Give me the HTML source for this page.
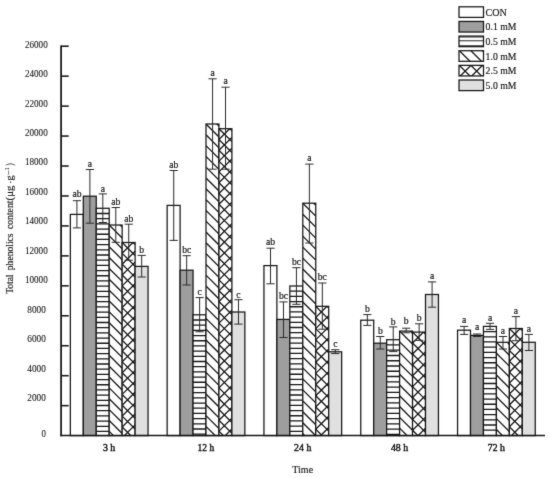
<!DOCTYPE html>
<html><head><meta charset="utf-8"><title>Total phenolics content</title>
<style>html,body{margin:0;padding:0;background:#fff;}body{width:550px;height:478px;overflow:hidden;font-family:"Liberation Serif", serif;}svg{display:block}</style>
</head><body>
<svg width="550" height="478" viewBox="0 0 550 478" font-family='"Liberation Serif", serif'><defs><filter id="soft" color-interpolation-filters="sRGB" x="0" y="0" width="550" height="478" filterUnits="userSpaceOnUse"><feConvolveMatrix order="3" kernelMatrix="0.015 0.075 0.015 0.075 0.6399999999999999 0.075 0.015 0.075 0.015" divisor="1" edgeMode="duplicate" preserveAlpha="true"/></filter><clipPath id="c02"><rect x="96.25" y="208.30" width="12.95" height="227.30"/></clipPath><clipPath id="c03"><rect x="109.20" y="225.00" width="12.95" height="210.60"/></clipPath><clipPath id="c04"><rect x="122.15" y="242.50" width="12.95" height="193.10"/></clipPath><clipPath id="c12"><rect x="193.05" y="314.80" width="12.95" height="120.80"/></clipPath><clipPath id="c13"><rect x="206.00" y="124.00" width="12.95" height="311.60"/></clipPath><clipPath id="c14"><rect x="218.95" y="128.70" width="12.95" height="306.90"/></clipPath><clipPath id="c22"><rect x="289.85" y="286.00" width="12.95" height="149.60"/></clipPath><clipPath id="c23"><rect x="302.80" y="203.20" width="12.95" height="232.40"/></clipPath><clipPath id="c24"><rect x="315.75" y="306.30" width="12.95" height="129.30"/></clipPath><clipPath id="c32"><rect x="386.65" y="339.70" width="12.95" height="95.90"/></clipPath><clipPath id="c33"><rect x="399.60" y="331.10" width="12.95" height="104.50"/></clipPath><clipPath id="c34"><rect x="412.55" y="332.10" width="12.95" height="103.50"/></clipPath><clipPath id="c42"><rect x="483.45" y="326.40" width="12.95" height="109.20"/></clipPath><clipPath id="c43"><rect x="496.40" y="342.30" width="12.95" height="93.30"/></clipPath><clipPath id="c44"><rect x="509.35" y="328.50" width="12.95" height="107.10"/></clipPath><clipPath id="l2"><rect x="459.0" y="36.08" width="24.5" height="10.6"/></clipPath><clipPath id="l3"><rect x="459.40" y="50.72" width="24.10" height="10.60"/></clipPath><clipPath id="l4"><rect x="459.40" y="65.36" width="24.10" height="10.60"/></clipPath></defs><g filter="url(#soft)"><rect width="550" height="478" fill="#fff"/><rect x="70.35" y="214.40" width="12.95" height="221.20" fill="#fff"/>
<rect x="70.35" y="214.40" width="12.95" height="221.20" fill="none" stroke="#161616" stroke-width="1.25"/>
<rect x="83.30" y="196.20" width="12.95" height="239.40" fill="#9e9e9e"/>
<rect x="83.30" y="196.20" width="12.95" height="239.40" fill="none" stroke="#161616" stroke-width="1.25"/>
<rect x="96.25" y="208.30" width="12.95" height="227.30" fill="#fff"/>
<g clip-path="url(#c02)" stroke="#161616" stroke-width="1.3" fill="none"><line x1="96.25" y1="213.49" x2="109.20" y2="213.49"/><line x1="96.25" y1="218.68" x2="109.20" y2="218.68"/><line x1="96.25" y1="223.87" x2="109.20" y2="223.87"/><line x1="96.25" y1="229.06" x2="109.20" y2="229.06"/><line x1="96.25" y1="234.25" x2="109.20" y2="234.25"/><line x1="96.25" y1="239.44" x2="109.20" y2="239.44"/><line x1="96.25" y1="244.63" x2="109.20" y2="244.63"/><line x1="96.25" y1="249.82" x2="109.20" y2="249.82"/><line x1="96.25" y1="255.01" x2="109.20" y2="255.01"/><line x1="96.25" y1="260.20" x2="109.20" y2="260.20"/><line x1="96.25" y1="265.39" x2="109.20" y2="265.39"/><line x1="96.25" y1="270.58" x2="109.20" y2="270.58"/><line x1="96.25" y1="275.77" x2="109.20" y2="275.77"/><line x1="96.25" y1="280.96" x2="109.20" y2="280.96"/><line x1="96.25" y1="286.15" x2="109.20" y2="286.15"/><line x1="96.25" y1="291.34" x2="109.20" y2="291.34"/><line x1="96.25" y1="296.53" x2="109.20" y2="296.53"/><line x1="96.25" y1="301.72" x2="109.20" y2="301.72"/><line x1="96.25" y1="306.91" x2="109.20" y2="306.91"/><line x1="96.25" y1="312.10" x2="109.20" y2="312.10"/><line x1="96.25" y1="317.29" x2="109.20" y2="317.29"/><line x1="96.25" y1="322.48" x2="109.20" y2="322.48"/><line x1="96.25" y1="327.67" x2="109.20" y2="327.67"/><line x1="96.25" y1="332.86" x2="109.20" y2="332.86"/><line x1="96.25" y1="338.05" x2="109.20" y2="338.05"/><line x1="96.25" y1="343.24" x2="109.20" y2="343.24"/><line x1="96.25" y1="348.43" x2="109.20" y2="348.43"/><line x1="96.25" y1="353.62" x2="109.20" y2="353.62"/><line x1="96.25" y1="358.81" x2="109.20" y2="358.81"/><line x1="96.25" y1="364.00" x2="109.20" y2="364.00"/><line x1="96.25" y1="369.19" x2="109.20" y2="369.19"/><line x1="96.25" y1="374.38" x2="109.20" y2="374.38"/><line x1="96.25" y1="379.57" x2="109.20" y2="379.57"/><line x1="96.25" y1="384.76" x2="109.20" y2="384.76"/><line x1="96.25" y1="389.95" x2="109.20" y2="389.95"/><line x1="96.25" y1="395.14" x2="109.20" y2="395.14"/><line x1="96.25" y1="400.33" x2="109.20" y2="400.33"/><line x1="96.25" y1="405.52" x2="109.20" y2="405.52"/><line x1="96.25" y1="410.71" x2="109.20" y2="410.71"/><line x1="96.25" y1="415.90" x2="109.20" y2="415.90"/><line x1="96.25" y1="421.09" x2="109.20" y2="421.09"/><line x1="96.25" y1="426.28" x2="109.20" y2="426.28"/><line x1="96.25" y1="431.47" x2="109.20" y2="431.47"/></g>
<rect x="96.25" y="208.30" width="12.95" height="227.30" fill="none" stroke="#161616" stroke-width="1.25"/>
<rect x="109.20" y="225.00" width="12.95" height="210.60" fill="#fff"/>
<g clip-path="url(#c03)" stroke="#161616" stroke-width="1.3" fill="none"><line x1="109.20" y1="203.28" x2="122.15" y2="216.23"/><line x1="109.20" y1="214.14" x2="122.15" y2="227.09"/><line x1="109.20" y1="225.00" x2="122.15" y2="237.95"/><line x1="109.20" y1="235.86" x2="122.15" y2="248.81"/><line x1="109.20" y1="246.72" x2="122.15" y2="259.67"/><line x1="109.20" y1="257.58" x2="122.15" y2="270.53"/><line x1="109.20" y1="268.44" x2="122.15" y2="281.39"/><line x1="109.20" y1="279.30" x2="122.15" y2="292.25"/><line x1="109.20" y1="290.16" x2="122.15" y2="303.11"/><line x1="109.20" y1="301.02" x2="122.15" y2="313.97"/><line x1="109.20" y1="311.88" x2="122.15" y2="324.83"/><line x1="109.20" y1="322.74" x2="122.15" y2="335.69"/><line x1="109.20" y1="333.60" x2="122.15" y2="346.55"/><line x1="109.20" y1="344.46" x2="122.15" y2="357.41"/><line x1="109.20" y1="355.32" x2="122.15" y2="368.27"/><line x1="109.20" y1="366.18" x2="122.15" y2="379.13"/><line x1="109.20" y1="377.04" x2="122.15" y2="389.99"/><line x1="109.20" y1="387.90" x2="122.15" y2="400.85"/><line x1="109.20" y1="398.76" x2="122.15" y2="411.71"/><line x1="109.20" y1="409.62" x2="122.15" y2="422.57"/><line x1="109.20" y1="420.48" x2="122.15" y2="433.43"/><line x1="109.20" y1="431.34" x2="122.15" y2="444.29"/><line x1="109.20" y1="442.20" x2="122.15" y2="455.15"/><line x1="109.20" y1="453.06" x2="122.15" y2="466.01"/></g>
<rect x="109.20" y="225.00" width="12.95" height="210.60" fill="none" stroke="#161616" stroke-width="1.25"/>
<rect x="122.15" y="242.50" width="12.95" height="193.10" fill="#fff"/>
<g clip-path="url(#c04)" stroke="#161616" stroke-width="1.3" fill="none"><line x1="122.15" y1="220.80" x2="135.10" y2="233.75"/><line x1="122.15" y1="231.65" x2="135.10" y2="244.60"/><line x1="122.15" y1="242.50" x2="135.10" y2="255.45"/><line x1="122.15" y1="253.35" x2="135.10" y2="266.30"/><line x1="122.15" y1="264.20" x2="135.10" y2="277.15"/><line x1="122.15" y1="275.05" x2="135.10" y2="288.00"/><line x1="122.15" y1="285.90" x2="135.10" y2="298.85"/><line x1="122.15" y1="296.75" x2="135.10" y2="309.70"/><line x1="122.15" y1="307.60" x2="135.10" y2="320.55"/><line x1="122.15" y1="318.45" x2="135.10" y2="331.40"/><line x1="122.15" y1="329.30" x2="135.10" y2="342.25"/><line x1="122.15" y1="340.15" x2="135.10" y2="353.10"/><line x1="122.15" y1="351.00" x2="135.10" y2="363.95"/><line x1="122.15" y1="361.85" x2="135.10" y2="374.80"/><line x1="122.15" y1="372.70" x2="135.10" y2="385.65"/><line x1="122.15" y1="383.55" x2="135.10" y2="396.50"/><line x1="122.15" y1="394.40" x2="135.10" y2="407.35"/><line x1="122.15" y1="405.25" x2="135.10" y2="418.20"/><line x1="122.15" y1="416.10" x2="135.10" y2="429.05"/><line x1="122.15" y1="426.95" x2="135.10" y2="439.90"/><line x1="122.15" y1="437.80" x2="135.10" y2="450.75"/><line x1="122.15" y1="448.65" x2="135.10" y2="461.60"/><line x1="122.15" y1="242.50" x2="135.10" y2="229.55"/><line x1="122.15" y1="253.35" x2="135.10" y2="240.40"/><line x1="122.15" y1="264.20" x2="135.10" y2="251.25"/><line x1="122.15" y1="275.05" x2="135.10" y2="262.10"/><line x1="122.15" y1="285.90" x2="135.10" y2="272.95"/><line x1="122.15" y1="296.75" x2="135.10" y2="283.80"/><line x1="122.15" y1="307.60" x2="135.10" y2="294.65"/><line x1="122.15" y1="318.45" x2="135.10" y2="305.50"/><line x1="122.15" y1="329.30" x2="135.10" y2="316.35"/><line x1="122.15" y1="340.15" x2="135.10" y2="327.20"/><line x1="122.15" y1="351.00" x2="135.10" y2="338.05"/><line x1="122.15" y1="361.85" x2="135.10" y2="348.90"/><line x1="122.15" y1="372.70" x2="135.10" y2="359.75"/><line x1="122.15" y1="383.55" x2="135.10" y2="370.60"/><line x1="122.15" y1="394.40" x2="135.10" y2="381.45"/><line x1="122.15" y1="405.25" x2="135.10" y2="392.30"/><line x1="122.15" y1="416.10" x2="135.10" y2="403.15"/><line x1="122.15" y1="426.95" x2="135.10" y2="414.00"/><line x1="122.15" y1="437.80" x2="135.10" y2="424.85"/><line x1="122.15" y1="448.65" x2="135.10" y2="435.70"/><line x1="122.15" y1="459.50" x2="135.10" y2="446.55"/><line x1="122.15" y1="470.35" x2="135.10" y2="457.40"/></g>
<rect x="122.15" y="242.50" width="12.95" height="193.10" fill="none" stroke="#161616" stroke-width="1.25"/>
<rect x="135.10" y="266.40" width="12.95" height="169.20" fill="#e0e0e0"/>
<rect x="135.10" y="266.40" width="12.95" height="169.20" fill="none" stroke="#161616" stroke-width="1.25"/>
<rect x="167.15" y="205.40" width="12.95" height="230.20" fill="#fff"/>
<rect x="167.15" y="205.40" width="12.95" height="230.20" fill="none" stroke="#161616" stroke-width="1.25"/>
<rect x="180.10" y="270.20" width="12.95" height="165.40" fill="#9e9e9e"/>
<rect x="180.10" y="270.20" width="12.95" height="165.40" fill="none" stroke="#161616" stroke-width="1.25"/>
<rect x="193.05" y="314.80" width="12.95" height="120.80" fill="#fff"/>
<g clip-path="url(#c12)" stroke="#161616" stroke-width="1.3" fill="none"><line x1="193.05" y1="319.99" x2="206.00" y2="319.99"/><line x1="193.05" y1="325.18" x2="206.00" y2="325.18"/><line x1="193.05" y1="330.37" x2="206.00" y2="330.37"/><line x1="193.05" y1="335.56" x2="206.00" y2="335.56"/><line x1="193.05" y1="340.75" x2="206.00" y2="340.75"/><line x1="193.05" y1="345.94" x2="206.00" y2="345.94"/><line x1="193.05" y1="351.13" x2="206.00" y2="351.13"/><line x1="193.05" y1="356.32" x2="206.00" y2="356.32"/><line x1="193.05" y1="361.51" x2="206.00" y2="361.51"/><line x1="193.05" y1="366.70" x2="206.00" y2="366.70"/><line x1="193.05" y1="371.89" x2="206.00" y2="371.89"/><line x1="193.05" y1="377.08" x2="206.00" y2="377.08"/><line x1="193.05" y1="382.27" x2="206.00" y2="382.27"/><line x1="193.05" y1="387.46" x2="206.00" y2="387.46"/><line x1="193.05" y1="392.65" x2="206.00" y2="392.65"/><line x1="193.05" y1="397.84" x2="206.00" y2="397.84"/><line x1="193.05" y1="403.03" x2="206.00" y2="403.03"/><line x1="193.05" y1="408.22" x2="206.00" y2="408.22"/><line x1="193.05" y1="413.41" x2="206.00" y2="413.41"/><line x1="193.05" y1="418.60" x2="206.00" y2="418.60"/><line x1="193.05" y1="423.79" x2="206.00" y2="423.79"/><line x1="193.05" y1="428.98" x2="206.00" y2="428.98"/><line x1="193.05" y1="434.17" x2="206.00" y2="434.17"/></g>
<rect x="193.05" y="314.80" width="12.95" height="120.80" fill="none" stroke="#161616" stroke-width="1.25"/>
<rect x="206.00" y="124.00" width="12.95" height="311.60" fill="#fff"/>
<g clip-path="url(#c13)" stroke="#161616" stroke-width="1.3" fill="none"><line x1="206.00" y1="102.40" x2="218.95" y2="115.35"/><line x1="206.00" y1="113.20" x2="218.95" y2="126.15"/><line x1="206.00" y1="124.00" x2="218.95" y2="136.95"/><line x1="206.00" y1="134.80" x2="218.95" y2="147.75"/><line x1="206.00" y1="145.60" x2="218.95" y2="158.55"/><line x1="206.00" y1="156.40" x2="218.95" y2="169.35"/><line x1="206.00" y1="167.20" x2="218.95" y2="180.15"/><line x1="206.00" y1="178.00" x2="218.95" y2="190.95"/><line x1="206.00" y1="188.80" x2="218.95" y2="201.75"/><line x1="206.00" y1="199.60" x2="218.95" y2="212.55"/><line x1="206.00" y1="210.40" x2="218.95" y2="223.35"/><line x1="206.00" y1="221.20" x2="218.95" y2="234.15"/><line x1="206.00" y1="232.00" x2="218.95" y2="244.95"/><line x1="206.00" y1="242.80" x2="218.95" y2="255.75"/><line x1="206.00" y1="253.60" x2="218.95" y2="266.55"/><line x1="206.00" y1="264.40" x2="218.95" y2="277.35"/><line x1="206.00" y1="275.20" x2="218.95" y2="288.15"/><line x1="206.00" y1="286.00" x2="218.95" y2="298.95"/><line x1="206.00" y1="296.80" x2="218.95" y2="309.75"/><line x1="206.00" y1="307.60" x2="218.95" y2="320.55"/><line x1="206.00" y1="318.40" x2="218.95" y2="331.35"/><line x1="206.00" y1="329.20" x2="218.95" y2="342.15"/><line x1="206.00" y1="340.00" x2="218.95" y2="352.95"/><line x1="206.00" y1="350.80" x2="218.95" y2="363.75"/><line x1="206.00" y1="361.60" x2="218.95" y2="374.55"/><line x1="206.00" y1="372.40" x2="218.95" y2="385.35"/><line x1="206.00" y1="383.20" x2="218.95" y2="396.15"/><line x1="206.00" y1="394.00" x2="218.95" y2="406.95"/><line x1="206.00" y1="404.80" x2="218.95" y2="417.75"/><line x1="206.00" y1="415.60" x2="218.95" y2="428.55"/><line x1="206.00" y1="426.40" x2="218.95" y2="439.35"/><line x1="206.00" y1="437.20" x2="218.95" y2="450.15"/><line x1="206.00" y1="448.00" x2="218.95" y2="460.95"/><line x1="206.00" y1="458.80" x2="218.95" y2="471.75"/></g>
<rect x="206.00" y="124.00" width="12.95" height="311.60" fill="none" stroke="#161616" stroke-width="1.25"/>
<rect x="218.95" y="128.70" width="12.95" height="306.90" fill="#fff"/>
<g clip-path="url(#c14)" stroke="#161616" stroke-width="1.3" fill="none"><line x1="218.95" y1="107.10" x2="231.90" y2="120.05"/><line x1="218.95" y1="117.90" x2="231.90" y2="130.85"/><line x1="218.95" y1="128.70" x2="231.90" y2="141.65"/><line x1="218.95" y1="139.50" x2="231.90" y2="152.45"/><line x1="218.95" y1="150.30" x2="231.90" y2="163.25"/><line x1="218.95" y1="161.10" x2="231.90" y2="174.05"/><line x1="218.95" y1="171.90" x2="231.90" y2="184.85"/><line x1="218.95" y1="182.70" x2="231.90" y2="195.65"/><line x1="218.95" y1="193.50" x2="231.90" y2="206.45"/><line x1="218.95" y1="204.30" x2="231.90" y2="217.25"/><line x1="218.95" y1="215.10" x2="231.90" y2="228.05"/><line x1="218.95" y1="225.90" x2="231.90" y2="238.85"/><line x1="218.95" y1="236.70" x2="231.90" y2="249.65"/><line x1="218.95" y1="247.50" x2="231.90" y2="260.45"/><line x1="218.95" y1="258.30" x2="231.90" y2="271.25"/><line x1="218.95" y1="269.10" x2="231.90" y2="282.05"/><line x1="218.95" y1="279.90" x2="231.90" y2="292.85"/><line x1="218.95" y1="290.70" x2="231.90" y2="303.65"/><line x1="218.95" y1="301.50" x2="231.90" y2="314.45"/><line x1="218.95" y1="312.30" x2="231.90" y2="325.25"/><line x1="218.95" y1="323.10" x2="231.90" y2="336.05"/><line x1="218.95" y1="333.90" x2="231.90" y2="346.85"/><line x1="218.95" y1="344.70" x2="231.90" y2="357.65"/><line x1="218.95" y1="355.50" x2="231.90" y2="368.45"/><line x1="218.95" y1="366.30" x2="231.90" y2="379.25"/><line x1="218.95" y1="377.10" x2="231.90" y2="390.05"/><line x1="218.95" y1="387.90" x2="231.90" y2="400.85"/><line x1="218.95" y1="398.70" x2="231.90" y2="411.65"/><line x1="218.95" y1="409.50" x2="231.90" y2="422.45"/><line x1="218.95" y1="420.30" x2="231.90" y2="433.25"/><line x1="218.95" y1="431.10" x2="231.90" y2="444.05"/><line x1="218.95" y1="441.90" x2="231.90" y2="454.85"/><line x1="218.95" y1="452.70" x2="231.90" y2="465.65"/><line x1="218.95" y1="128.70" x2="231.90" y2="115.75"/><line x1="218.95" y1="139.50" x2="231.90" y2="126.55"/><line x1="218.95" y1="150.30" x2="231.90" y2="137.35"/><line x1="218.95" y1="161.10" x2="231.90" y2="148.15"/><line x1="218.95" y1="171.90" x2="231.90" y2="158.95"/><line x1="218.95" y1="182.70" x2="231.90" y2="169.75"/><line x1="218.95" y1="193.50" x2="231.90" y2="180.55"/><line x1="218.95" y1="204.30" x2="231.90" y2="191.35"/><line x1="218.95" y1="215.10" x2="231.90" y2="202.15"/><line x1="218.95" y1="225.90" x2="231.90" y2="212.95"/><line x1="218.95" y1="236.70" x2="231.90" y2="223.75"/><line x1="218.95" y1="247.50" x2="231.90" y2="234.55"/><line x1="218.95" y1="258.30" x2="231.90" y2="245.35"/><line x1="218.95" y1="269.10" x2="231.90" y2="256.15"/><line x1="218.95" y1="279.90" x2="231.90" y2="266.95"/><line x1="218.95" y1="290.70" x2="231.90" y2="277.75"/><line x1="218.95" y1="301.50" x2="231.90" y2="288.55"/><line x1="218.95" y1="312.30" x2="231.90" y2="299.35"/><line x1="218.95" y1="323.10" x2="231.90" y2="310.15"/><line x1="218.95" y1="333.90" x2="231.90" y2="320.95"/><line x1="218.95" y1="344.70" x2="231.90" y2="331.75"/><line x1="218.95" y1="355.50" x2="231.90" y2="342.55"/><line x1="218.95" y1="366.30" x2="231.90" y2="353.35"/><line x1="218.95" y1="377.10" x2="231.90" y2="364.15"/><line x1="218.95" y1="387.90" x2="231.90" y2="374.95"/><line x1="218.95" y1="398.70" x2="231.90" y2="385.75"/><line x1="218.95" y1="409.50" x2="231.90" y2="396.55"/><line x1="218.95" y1="420.30" x2="231.90" y2="407.35"/><line x1="218.95" y1="431.10" x2="231.90" y2="418.15"/><line x1="218.95" y1="441.90" x2="231.90" y2="428.95"/><line x1="218.95" y1="452.70" x2="231.90" y2="439.75"/><line x1="218.95" y1="463.50" x2="231.90" y2="450.55"/><line x1="218.95" y1="474.30" x2="231.90" y2="461.35"/></g>
<rect x="218.95" y="128.70" width="12.95" height="306.90" fill="none" stroke="#161616" stroke-width="1.25"/>
<rect x="231.90" y="312.00" width="12.95" height="123.60" fill="#e0e0e0"/>
<rect x="231.90" y="312.00" width="12.95" height="123.60" fill="none" stroke="#161616" stroke-width="1.25"/>
<rect x="263.95" y="265.60" width="12.95" height="170.00" fill="#fff"/>
<rect x="263.95" y="265.60" width="12.95" height="170.00" fill="none" stroke="#161616" stroke-width="1.25"/>
<rect x="276.90" y="319.40" width="12.95" height="116.20" fill="#9e9e9e"/>
<rect x="276.90" y="319.40" width="12.95" height="116.20" fill="none" stroke="#161616" stroke-width="1.25"/>
<rect x="289.85" y="286.00" width="12.95" height="149.60" fill="#fff"/>
<g clip-path="url(#c22)" stroke="#161616" stroke-width="1.3" fill="none"><line x1="289.85" y1="291.19" x2="302.80" y2="291.19"/><line x1="289.85" y1="296.38" x2="302.80" y2="296.38"/><line x1="289.85" y1="301.57" x2="302.80" y2="301.57"/><line x1="289.85" y1="306.76" x2="302.80" y2="306.76"/><line x1="289.85" y1="311.95" x2="302.80" y2="311.95"/><line x1="289.85" y1="317.14" x2="302.80" y2="317.14"/><line x1="289.85" y1="322.33" x2="302.80" y2="322.33"/><line x1="289.85" y1="327.52" x2="302.80" y2="327.52"/><line x1="289.85" y1="332.71" x2="302.80" y2="332.71"/><line x1="289.85" y1="337.90" x2="302.80" y2="337.90"/><line x1="289.85" y1="343.09" x2="302.80" y2="343.09"/><line x1="289.85" y1="348.28" x2="302.80" y2="348.28"/><line x1="289.85" y1="353.47" x2="302.80" y2="353.47"/><line x1="289.85" y1="358.66" x2="302.80" y2="358.66"/><line x1="289.85" y1="363.85" x2="302.80" y2="363.85"/><line x1="289.85" y1="369.04" x2="302.80" y2="369.04"/><line x1="289.85" y1="374.23" x2="302.80" y2="374.23"/><line x1="289.85" y1="379.42" x2="302.80" y2="379.42"/><line x1="289.85" y1="384.61" x2="302.80" y2="384.61"/><line x1="289.85" y1="389.80" x2="302.80" y2="389.80"/><line x1="289.85" y1="394.99" x2="302.80" y2="394.99"/><line x1="289.85" y1="400.18" x2="302.80" y2="400.18"/><line x1="289.85" y1="405.37" x2="302.80" y2="405.37"/><line x1="289.85" y1="410.56" x2="302.80" y2="410.56"/><line x1="289.85" y1="415.75" x2="302.80" y2="415.75"/><line x1="289.85" y1="420.94" x2="302.80" y2="420.94"/><line x1="289.85" y1="426.13" x2="302.80" y2="426.13"/><line x1="289.85" y1="431.32" x2="302.80" y2="431.32"/></g>
<rect x="289.85" y="286.00" width="12.95" height="149.60" fill="none" stroke="#161616" stroke-width="1.25"/>
<rect x="302.80" y="203.20" width="12.95" height="232.40" fill="#fff"/>
<g clip-path="url(#c23)" stroke="#161616" stroke-width="1.3" fill="none"><line x1="302.80" y1="181.24" x2="315.75" y2="194.19"/><line x1="302.80" y1="192.22" x2="315.75" y2="205.17"/><line x1="302.80" y1="203.20" x2="315.75" y2="216.15"/><line x1="302.80" y1="214.18" x2="315.75" y2="227.13"/><line x1="302.80" y1="225.16" x2="315.75" y2="238.11"/><line x1="302.80" y1="236.14" x2="315.75" y2="249.09"/><line x1="302.80" y1="247.12" x2="315.75" y2="260.07"/><line x1="302.80" y1="258.10" x2="315.75" y2="271.05"/><line x1="302.80" y1="269.08" x2="315.75" y2="282.03"/><line x1="302.80" y1="280.06" x2="315.75" y2="293.01"/><line x1="302.80" y1="291.04" x2="315.75" y2="303.99"/><line x1="302.80" y1="302.02" x2="315.75" y2="314.97"/><line x1="302.80" y1="313.00" x2="315.75" y2="325.95"/><line x1="302.80" y1="323.98" x2="315.75" y2="336.93"/><line x1="302.80" y1="334.96" x2="315.75" y2="347.91"/><line x1="302.80" y1="345.94" x2="315.75" y2="358.89"/><line x1="302.80" y1="356.92" x2="315.75" y2="369.87"/><line x1="302.80" y1="367.90" x2="315.75" y2="380.85"/><line x1="302.80" y1="378.88" x2="315.75" y2="391.83"/><line x1="302.80" y1="389.86" x2="315.75" y2="402.81"/><line x1="302.80" y1="400.84" x2="315.75" y2="413.79"/><line x1="302.80" y1="411.82" x2="315.75" y2="424.77"/><line x1="302.80" y1="422.80" x2="315.75" y2="435.75"/><line x1="302.80" y1="433.78" x2="315.75" y2="446.73"/><line x1="302.80" y1="444.76" x2="315.75" y2="457.71"/><line x1="302.80" y1="455.74" x2="315.75" y2="468.69"/></g>
<rect x="302.80" y="203.20" width="12.95" height="232.40" fill="none" stroke="#161616" stroke-width="1.25"/>
<rect x="315.75" y="306.30" width="12.95" height="129.30" fill="#fff"/>
<g clip-path="url(#c24)" stroke="#161616" stroke-width="1.3" fill="none"><line x1="315.75" y1="283.94" x2="328.70" y2="296.89"/><line x1="315.75" y1="295.12" x2="328.70" y2="308.07"/><line x1="315.75" y1="306.30" x2="328.70" y2="319.25"/><line x1="315.75" y1="317.48" x2="328.70" y2="330.43"/><line x1="315.75" y1="328.66" x2="328.70" y2="341.61"/><line x1="315.75" y1="339.84" x2="328.70" y2="352.79"/><line x1="315.75" y1="351.02" x2="328.70" y2="363.97"/><line x1="315.75" y1="362.20" x2="328.70" y2="375.15"/><line x1="315.75" y1="373.38" x2="328.70" y2="386.33"/><line x1="315.75" y1="384.56" x2="328.70" y2="397.51"/><line x1="315.75" y1="395.74" x2="328.70" y2="408.69"/><line x1="315.75" y1="406.92" x2="328.70" y2="419.87"/><line x1="315.75" y1="418.10" x2="328.70" y2="431.05"/><line x1="315.75" y1="429.28" x2="328.70" y2="442.23"/><line x1="315.75" y1="440.46" x2="328.70" y2="453.41"/><line x1="315.75" y1="451.64" x2="328.70" y2="464.59"/><line x1="315.75" y1="306.30" x2="328.70" y2="293.35"/><line x1="315.75" y1="317.48" x2="328.70" y2="304.53"/><line x1="315.75" y1="328.66" x2="328.70" y2="315.71"/><line x1="315.75" y1="339.84" x2="328.70" y2="326.89"/><line x1="315.75" y1="351.02" x2="328.70" y2="338.07"/><line x1="315.75" y1="362.20" x2="328.70" y2="349.25"/><line x1="315.75" y1="373.38" x2="328.70" y2="360.43"/><line x1="315.75" y1="384.56" x2="328.70" y2="371.61"/><line x1="315.75" y1="395.74" x2="328.70" y2="382.79"/><line x1="315.75" y1="406.92" x2="328.70" y2="393.97"/><line x1="315.75" y1="418.10" x2="328.70" y2="405.15"/><line x1="315.75" y1="429.28" x2="328.70" y2="416.33"/><line x1="315.75" y1="440.46" x2="328.70" y2="427.51"/><line x1="315.75" y1="451.64" x2="328.70" y2="438.69"/><line x1="315.75" y1="462.82" x2="328.70" y2="449.87"/><line x1="315.75" y1="474.00" x2="328.70" y2="461.05"/></g>
<rect x="315.75" y="306.30" width="12.95" height="129.30" fill="none" stroke="#161616" stroke-width="1.25"/>
<rect x="328.70" y="351.80" width="12.95" height="83.80" fill="#e0e0e0"/>
<rect x="328.70" y="351.80" width="12.95" height="83.80" fill="none" stroke="#161616" stroke-width="1.25"/>
<rect x="360.75" y="320.20" width="12.95" height="115.40" fill="#fff"/>
<rect x="360.75" y="320.20" width="12.95" height="115.40" fill="none" stroke="#161616" stroke-width="1.25"/>
<rect x="373.70" y="343.20" width="12.95" height="92.40" fill="#9e9e9e"/>
<rect x="373.70" y="343.20" width="12.95" height="92.40" fill="none" stroke="#161616" stroke-width="1.25"/>
<rect x="386.65" y="339.70" width="12.95" height="95.90" fill="#fff"/>
<g clip-path="url(#c32)" stroke="#161616" stroke-width="1.3" fill="none"><line x1="386.65" y1="344.96" x2="399.60" y2="344.96"/><line x1="386.65" y1="350.22" x2="399.60" y2="350.22"/><line x1="386.65" y1="355.48" x2="399.60" y2="355.48"/><line x1="386.65" y1="360.74" x2="399.60" y2="360.74"/><line x1="386.65" y1="366.00" x2="399.60" y2="366.00"/><line x1="386.65" y1="371.26" x2="399.60" y2="371.26"/><line x1="386.65" y1="376.52" x2="399.60" y2="376.52"/><line x1="386.65" y1="381.78" x2="399.60" y2="381.78"/><line x1="386.65" y1="387.04" x2="399.60" y2="387.04"/><line x1="386.65" y1="392.30" x2="399.60" y2="392.30"/><line x1="386.65" y1="397.56" x2="399.60" y2="397.56"/><line x1="386.65" y1="402.82" x2="399.60" y2="402.82"/><line x1="386.65" y1="408.08" x2="399.60" y2="408.08"/><line x1="386.65" y1="413.34" x2="399.60" y2="413.34"/><line x1="386.65" y1="418.60" x2="399.60" y2="418.60"/><line x1="386.65" y1="423.86" x2="399.60" y2="423.86"/><line x1="386.65" y1="429.12" x2="399.60" y2="429.12"/><line x1="386.65" y1="434.38" x2="399.60" y2="434.38"/></g>
<rect x="386.65" y="339.70" width="12.95" height="95.90" fill="none" stroke="#161616" stroke-width="1.25"/>
<rect x="399.60" y="331.10" width="12.95" height="104.50" fill="#fff"/>
<g clip-path="url(#c33)" stroke="#161616" stroke-width="1.3" fill="none"><line x1="399.60" y1="309.54" x2="412.55" y2="322.49"/><line x1="399.60" y1="320.32" x2="412.55" y2="333.27"/><line x1="399.60" y1="331.10" x2="412.55" y2="344.05"/><line x1="399.60" y1="341.88" x2="412.55" y2="354.83"/><line x1="399.60" y1="352.66" x2="412.55" y2="365.61"/><line x1="399.60" y1="363.44" x2="412.55" y2="376.39"/><line x1="399.60" y1="374.22" x2="412.55" y2="387.17"/><line x1="399.60" y1="385.00" x2="412.55" y2="397.95"/><line x1="399.60" y1="395.78" x2="412.55" y2="408.73"/><line x1="399.60" y1="406.56" x2="412.55" y2="419.51"/><line x1="399.60" y1="417.34" x2="412.55" y2="430.29"/><line x1="399.60" y1="428.12" x2="412.55" y2="441.07"/><line x1="399.60" y1="438.90" x2="412.55" y2="451.85"/><line x1="399.60" y1="449.68" x2="412.55" y2="462.63"/></g>
<rect x="399.60" y="331.10" width="12.95" height="104.50" fill="none" stroke="#161616" stroke-width="1.25"/>
<rect x="412.55" y="332.10" width="12.95" height="103.50" fill="#fff"/>
<g clip-path="url(#c34)" stroke="#161616" stroke-width="1.3" fill="none"><line x1="412.55" y1="310.28" x2="425.50" y2="323.23"/><line x1="412.55" y1="321.19" x2="425.50" y2="334.14"/><line x1="412.55" y1="332.10" x2="425.50" y2="345.05"/><line x1="412.55" y1="343.01" x2="425.50" y2="355.96"/><line x1="412.55" y1="353.92" x2="425.50" y2="366.87"/><line x1="412.55" y1="364.83" x2="425.50" y2="377.78"/><line x1="412.55" y1="375.74" x2="425.50" y2="388.69"/><line x1="412.55" y1="386.65" x2="425.50" y2="399.60"/><line x1="412.55" y1="397.56" x2="425.50" y2="410.51"/><line x1="412.55" y1="408.47" x2="425.50" y2="421.42"/><line x1="412.55" y1="419.38" x2="425.50" y2="432.33"/><line x1="412.55" y1="430.29" x2="425.50" y2="443.24"/><line x1="412.55" y1="441.20" x2="425.50" y2="454.15"/><line x1="412.55" y1="452.11" x2="425.50" y2="465.06"/><line x1="412.55" y1="332.10" x2="425.50" y2="319.15"/><line x1="412.55" y1="343.01" x2="425.50" y2="330.06"/><line x1="412.55" y1="353.92" x2="425.50" y2="340.97"/><line x1="412.55" y1="364.83" x2="425.50" y2="351.88"/><line x1="412.55" y1="375.74" x2="425.50" y2="362.79"/><line x1="412.55" y1="386.65" x2="425.50" y2="373.70"/><line x1="412.55" y1="397.56" x2="425.50" y2="384.61"/><line x1="412.55" y1="408.47" x2="425.50" y2="395.52"/><line x1="412.55" y1="419.38" x2="425.50" y2="406.43"/><line x1="412.55" y1="430.29" x2="425.50" y2="417.34"/><line x1="412.55" y1="441.20" x2="425.50" y2="428.25"/><line x1="412.55" y1="452.11" x2="425.50" y2="439.16"/><line x1="412.55" y1="463.02" x2="425.50" y2="450.07"/><line x1="412.55" y1="473.93" x2="425.50" y2="460.98"/></g>
<rect x="412.55" y="332.10" width="12.95" height="103.50" fill="none" stroke="#161616" stroke-width="1.25"/>
<rect x="425.50" y="294.50" width="12.95" height="141.10" fill="#e0e0e0"/>
<rect x="425.50" y="294.50" width="12.95" height="141.10" fill="none" stroke="#161616" stroke-width="1.25"/>
<rect x="457.55" y="330.20" width="12.95" height="105.40" fill="#fff"/>
<rect x="457.55" y="330.20" width="12.95" height="105.40" fill="none" stroke="#161616" stroke-width="1.25"/>
<rect x="470.50" y="335.40" width="12.95" height="100.20" fill="#9e9e9e"/>
<rect x="470.50" y="335.40" width="12.95" height="100.20" fill="none" stroke="#161616" stroke-width="1.25"/>
<rect x="483.45" y="326.40" width="12.95" height="109.20" fill="#fff"/>
<g clip-path="url(#c42)" stroke="#161616" stroke-width="1.3" fill="none"><line x1="483.45" y1="331.59" x2="496.40" y2="331.59"/><line x1="483.45" y1="336.78" x2="496.40" y2="336.78"/><line x1="483.45" y1="341.97" x2="496.40" y2="341.97"/><line x1="483.45" y1="347.16" x2="496.40" y2="347.16"/><line x1="483.45" y1="352.35" x2="496.40" y2="352.35"/><line x1="483.45" y1="357.54" x2="496.40" y2="357.54"/><line x1="483.45" y1="362.73" x2="496.40" y2="362.73"/><line x1="483.45" y1="367.92" x2="496.40" y2="367.92"/><line x1="483.45" y1="373.11" x2="496.40" y2="373.11"/><line x1="483.45" y1="378.30" x2="496.40" y2="378.30"/><line x1="483.45" y1="383.49" x2="496.40" y2="383.49"/><line x1="483.45" y1="388.68" x2="496.40" y2="388.68"/><line x1="483.45" y1="393.87" x2="496.40" y2="393.87"/><line x1="483.45" y1="399.06" x2="496.40" y2="399.06"/><line x1="483.45" y1="404.25" x2="496.40" y2="404.25"/><line x1="483.45" y1="409.44" x2="496.40" y2="409.44"/><line x1="483.45" y1="414.63" x2="496.40" y2="414.63"/><line x1="483.45" y1="419.82" x2="496.40" y2="419.82"/><line x1="483.45" y1="425.01" x2="496.40" y2="425.01"/><line x1="483.45" y1="430.20" x2="496.40" y2="430.20"/></g>
<rect x="483.45" y="326.40" width="12.95" height="109.20" fill="none" stroke="#161616" stroke-width="1.25"/>
<rect x="496.40" y="342.30" width="12.95" height="93.30" fill="#fff"/>
<g clip-path="url(#c43)" stroke="#161616" stroke-width="1.3" fill="none"><line x1="496.40" y1="320.50" x2="509.35" y2="333.45"/><line x1="496.40" y1="331.40" x2="509.35" y2="344.35"/><line x1="496.40" y1="342.30" x2="509.35" y2="355.25"/><line x1="496.40" y1="353.20" x2="509.35" y2="366.15"/><line x1="496.40" y1="364.10" x2="509.35" y2="377.05"/><line x1="496.40" y1="375.00" x2="509.35" y2="387.95"/><line x1="496.40" y1="385.90" x2="509.35" y2="398.85"/><line x1="496.40" y1="396.80" x2="509.35" y2="409.75"/><line x1="496.40" y1="407.70" x2="509.35" y2="420.65"/><line x1="496.40" y1="418.60" x2="509.35" y2="431.55"/><line x1="496.40" y1="429.50" x2="509.35" y2="442.45"/><line x1="496.40" y1="440.40" x2="509.35" y2="453.35"/><line x1="496.40" y1="451.30" x2="509.35" y2="464.25"/></g>
<rect x="496.40" y="342.30" width="12.95" height="93.30" fill="none" stroke="#161616" stroke-width="1.25"/>
<rect x="509.35" y="328.50" width="12.95" height="107.10" fill="#fff"/>
<g clip-path="url(#c44)" stroke="#161616" stroke-width="1.3" fill="none"><line x1="509.35" y1="306.66" x2="522.30" y2="319.61"/><line x1="509.35" y1="317.58" x2="522.30" y2="330.53"/><line x1="509.35" y1="328.50" x2="522.30" y2="341.45"/><line x1="509.35" y1="339.42" x2="522.30" y2="352.37"/><line x1="509.35" y1="350.34" x2="522.30" y2="363.29"/><line x1="509.35" y1="361.26" x2="522.30" y2="374.21"/><line x1="509.35" y1="372.18" x2="522.30" y2="385.13"/><line x1="509.35" y1="383.10" x2="522.30" y2="396.05"/><line x1="509.35" y1="394.02" x2="522.30" y2="406.97"/><line x1="509.35" y1="404.94" x2="522.30" y2="417.89"/><line x1="509.35" y1="415.86" x2="522.30" y2="428.81"/><line x1="509.35" y1="426.78" x2="522.30" y2="439.73"/><line x1="509.35" y1="437.70" x2="522.30" y2="450.65"/><line x1="509.35" y1="448.62" x2="522.30" y2="461.57"/><line x1="509.35" y1="328.50" x2="522.30" y2="315.55"/><line x1="509.35" y1="339.42" x2="522.30" y2="326.47"/><line x1="509.35" y1="350.34" x2="522.30" y2="337.39"/><line x1="509.35" y1="361.26" x2="522.30" y2="348.31"/><line x1="509.35" y1="372.18" x2="522.30" y2="359.23"/><line x1="509.35" y1="383.10" x2="522.30" y2="370.15"/><line x1="509.35" y1="394.02" x2="522.30" y2="381.07"/><line x1="509.35" y1="404.94" x2="522.30" y2="391.99"/><line x1="509.35" y1="415.86" x2="522.30" y2="402.91"/><line x1="509.35" y1="426.78" x2="522.30" y2="413.83"/><line x1="509.35" y1="437.70" x2="522.30" y2="424.75"/><line x1="509.35" y1="448.62" x2="522.30" y2="435.67"/><line x1="509.35" y1="459.54" x2="522.30" y2="446.59"/><line x1="509.35" y1="470.46" x2="522.30" y2="457.51"/></g>
<rect x="509.35" y="328.50" width="12.95" height="107.10" fill="none" stroke="#161616" stroke-width="1.25"/>
<rect x="522.30" y="342.30" width="12.95" height="93.30" fill="#e0e0e0"/>
<rect x="522.30" y="342.30" width="12.95" height="93.30" fill="none" stroke="#161616" stroke-width="1.25"/>
<path d="M76.92 200.70V227.90M72.83 200.70H81.02M72.83 227.90H81.02" stroke="#2a2a2a" stroke-width="1" fill="none"/>
<text x="76.92" y="197.40" text-anchor="middle" font-size="9.6" fill="#151515" stroke="#151515" stroke-width="0.2">ab</text>
<path d="M89.88 169.50V223.20M85.78 169.50H93.97M85.78 223.20H93.97" stroke="#2a2a2a" stroke-width="1" fill="none"/>
<text x="89.88" y="167.10" text-anchor="middle" font-size="9.6" fill="#151515" stroke="#151515" stroke-width="0.2">a</text>
<path d="M102.82 193.90V222.50M98.72 193.90H106.92M98.72 222.50H106.92" stroke="#2a2a2a" stroke-width="1" fill="none"/>
<text x="102.82" y="191.60" text-anchor="middle" font-size="9.6" fill="#151515" stroke="#151515" stroke-width="0.2">a</text>
<path d="M115.77 207.50V242.30M111.67 207.50H119.87M111.67 242.30H119.87" stroke="#2a2a2a" stroke-width="1" fill="none"/>
<text x="115.77" y="205.20" text-anchor="middle" font-size="9.6" fill="#151515" stroke="#151515" stroke-width="0.2">ab</text>
<path d="M128.72 224.20V260.20M124.62 224.20H132.82M124.62 260.20H132.82" stroke="#2a2a2a" stroke-width="1" fill="none"/>
<text x="128.72" y="221.90" text-anchor="middle" font-size="9.6" fill="#151515" stroke="#151515" stroke-width="0.2">ab</text>
<path d="M141.68 255.40V277.00M137.58 255.40H145.78M137.58 277.00H145.78" stroke="#2a2a2a" stroke-width="1" fill="none"/>
<text x="141.68" y="253.00" text-anchor="middle" font-size="9.6" fill="#151515" stroke="#151515" stroke-width="0.2">b</text>
<path d="M173.72 170.50V240.40M169.62 170.50H177.82M169.62 240.40H177.82" stroke="#2a2a2a" stroke-width="1" fill="none"/>
<text x="173.72" y="168.20" text-anchor="middle" font-size="9.6" fill="#151515" stroke="#151515" stroke-width="0.2">ab</text>
<path d="M186.67 255.70V285.00M182.57 255.70H190.77M182.57 285.00H190.77" stroke="#2a2a2a" stroke-width="1" fill="none"/>
<text x="186.67" y="253.00" text-anchor="middle" font-size="9.6" fill="#151515" stroke="#151515" stroke-width="0.2">bc</text>
<path d="M199.62 297.60V331.80M195.52 297.60H203.72M195.52 331.80H203.72" stroke="#2a2a2a" stroke-width="1" fill="none"/>
<text x="199.62" y="295.30" text-anchor="middle" font-size="9.6" fill="#151515" stroke="#151515" stroke-width="0.2">c</text>
<path d="M212.57 78.80V169.20M208.47 78.80H216.67M208.47 169.20H216.67" stroke="#2a2a2a" stroke-width="1" fill="none"/>
<text x="212.57" y="76.10" text-anchor="middle" font-size="9.6" fill="#151515" stroke="#151515" stroke-width="0.2">a</text>
<path d="M225.52 87.20V169.20M221.42 87.20H229.62M221.42 169.20H229.62" stroke="#2a2a2a" stroke-width="1" fill="none"/>
<text x="225.52" y="84.40" text-anchor="middle" font-size="9.6" fill="#151515" stroke="#151515" stroke-width="0.2">a</text>
<path d="M238.47 299.70V324.10M234.37 299.70H242.57M234.37 324.10H242.57" stroke="#2a2a2a" stroke-width="1" fill="none"/>
<text x="238.47" y="297.80" text-anchor="middle" font-size="9.6" fill="#151515" stroke="#151515" stroke-width="0.2">c</text>
<path d="M270.53 248.20V283.80M266.43 248.20H274.63M266.43 283.80H274.63" stroke="#2a2a2a" stroke-width="1" fill="none"/>
<text x="270.53" y="245.40" text-anchor="middle" font-size="9.6" fill="#151515" stroke="#151515" stroke-width="0.2">ab</text>
<path d="M283.48 301.90V337.50M279.38 301.90H287.58M279.38 337.50H287.58" stroke="#2a2a2a" stroke-width="1" fill="none"/>
<text x="283.48" y="299.40" text-anchor="middle" font-size="9.6" fill="#151515" stroke="#151515" stroke-width="0.2">bc</text>
<path d="M296.43 267.70V304.30M292.32 267.70H300.53M292.32 304.30H300.53" stroke="#2a2a2a" stroke-width="1" fill="none"/>
<text x="296.43" y="264.90" text-anchor="middle" font-size="9.6" fill="#151515" stroke="#151515" stroke-width="0.2">bc</text>
<path d="M309.38 164.10V243.00M305.27 164.10H313.48M305.27 243.00H313.48" stroke="#2a2a2a" stroke-width="1" fill="none"/>
<text x="309.38" y="161.30" text-anchor="middle" font-size="9.6" fill="#151515" stroke="#151515" stroke-width="0.2">a</text>
<path d="M322.33 283.00V329.20M318.23 283.00H326.43M318.23 329.20H326.43" stroke="#2a2a2a" stroke-width="1" fill="none"/>
<text x="322.33" y="280.00" text-anchor="middle" font-size="9.6" fill="#151515" stroke="#151515" stroke-width="0.2">bc</text>
<path d="M335.28 349.70V353.60M331.18 349.70H339.38M331.18 353.60H339.38" stroke="#2a2a2a" stroke-width="1" fill="none"/>
<text x="335.28" y="346.90" text-anchor="middle" font-size="9.6" fill="#151515" stroke="#151515" stroke-width="0.2">c</text>
<path d="M367.33 314.60V325.40M363.23 314.60H371.43M363.23 325.40H371.43" stroke="#2a2a2a" stroke-width="1" fill="none"/>
<text x="367.33" y="311.60" text-anchor="middle" font-size="9.6" fill="#151515" stroke="#151515" stroke-width="0.2">b</text>
<path d="M380.28 336.50V349.00M376.18 336.50H384.38M376.18 349.00H384.38" stroke="#2a2a2a" stroke-width="1" fill="none"/>
<text x="380.28" y="333.60" text-anchor="middle" font-size="9.6" fill="#151515" stroke="#151515" stroke-width="0.2">b</text>
<path d="M393.23 326.90V351.60M389.12 326.90H397.33M389.12 351.60H397.33" stroke="#2a2a2a" stroke-width="1" fill="none"/>
<text x="393.23" y="324.80" text-anchor="middle" font-size="9.6" fill="#151515" stroke="#151515" stroke-width="0.2">b</text>
<path d="M406.18 328.20V332.80M402.08 328.20H410.28M402.08 332.80H410.28" stroke="#2a2a2a" stroke-width="1" fill="none"/>
<text x="406.18" y="324.20" text-anchor="middle" font-size="9.6" fill="#151515" stroke="#151515" stroke-width="0.2">b</text>
<path d="M419.13 323.80V340.40M415.03 323.80H423.23M415.03 340.40H423.23" stroke="#2a2a2a" stroke-width="1" fill="none"/>
<text x="419.13" y="320.60" text-anchor="middle" font-size="9.6" fill="#151515" stroke="#151515" stroke-width="0.2">b</text>
<path d="M432.08 281.90V307.20M427.98 281.90H436.18M427.98 307.20H436.18" stroke="#2a2a2a" stroke-width="1" fill="none"/>
<text x="432.08" y="279.20" text-anchor="middle" font-size="9.6" fill="#151515" stroke="#151515" stroke-width="0.2">a</text>
<path d="M464.13 326.40V334.40M460.03 326.40H468.23M460.03 334.40H468.23" stroke="#2a2a2a" stroke-width="1" fill="none"/>
<text x="464.13" y="323.30" text-anchor="middle" font-size="9.6" fill="#151515" stroke="#151515" stroke-width="0.2">a</text>
<path d="M477.08 334.00V336.50M472.98 334.00H481.18M472.98 336.50H481.18" stroke="#2a2a2a" stroke-width="1" fill="none"/>
<text x="477.08" y="329.60" text-anchor="middle" font-size="9.6" fill="#151515" stroke="#151515" stroke-width="0.2">a</text>
<path d="M490.03 323.30V329.40M485.93 323.30H494.13M485.93 329.40H494.13" stroke="#2a2a2a" stroke-width="1" fill="none"/>
<text x="490.03" y="321.20" text-anchor="middle" font-size="9.6" fill="#151515" stroke="#151515" stroke-width="0.2">a</text>
<path d="M502.98 336.50V349.00M498.88 336.50H507.08M498.88 349.00H507.08" stroke="#2a2a2a" stroke-width="1" fill="none"/>
<text x="502.98" y="333.70" text-anchor="middle" font-size="9.6" fill="#151515" stroke="#151515" stroke-width="0.2">a</text>
<path d="M515.93 316.60V340.70M511.83 316.60H520.03M511.83 340.70H520.03" stroke="#2a2a2a" stroke-width="1" fill="none"/>
<text x="515.93" y="313.90" text-anchor="middle" font-size="9.6" fill="#151515" stroke="#151515" stroke-width="0.2">a</text>
<path d="M528.88 334.40V350.50M524.77 334.40H532.98M524.77 350.50H532.98" stroke="#2a2a2a" stroke-width="1" fill="none"/>
<text x="528.88" y="331.70" text-anchor="middle" font-size="9.6" fill="#151515" stroke="#151515" stroke-width="0.2">a</text>
<path d="M61.1 45.6V436.35" stroke="#161616" stroke-width="1.75" fill="none"/>
<path d="M60.3 435.60H545" stroke="#161616" stroke-width="1.5" fill="none"/>
<path d="M61 405.65H68.7" stroke="#161616" stroke-width="1.55" fill="none"/>
<path d="M61 375.69H68.7" stroke="#161616" stroke-width="1.55" fill="none"/>
<path d="M61 345.74H68.7" stroke="#161616" stroke-width="1.55" fill="none"/>
<path d="M61 315.78H68.7" stroke="#161616" stroke-width="1.55" fill="none"/>
<path d="M61 285.83H68.7" stroke="#161616" stroke-width="1.55" fill="none"/>
<path d="M61 255.88H68.7" stroke="#161616" stroke-width="1.55" fill="none"/>
<path d="M61 225.92H68.7" stroke="#161616" stroke-width="1.55" fill="none"/>
<path d="M61 195.97H68.7" stroke="#161616" stroke-width="1.55" fill="none"/>
<path d="M61 166.02H68.7" stroke="#161616" stroke-width="1.55" fill="none"/>
<path d="M61 136.06H68.7" stroke="#161616" stroke-width="1.55" fill="none"/>
<path d="M61 106.11H68.7" stroke="#161616" stroke-width="1.55" fill="none"/>
<path d="M61 76.15H68.7" stroke="#161616" stroke-width="1.55" fill="none"/>
<path d="M61 46.20H68.7" stroke="#161616" stroke-width="1.55" fill="none"/>
<text x="45.8" y="436.80" text-anchor="end" font-size="9.6" textLength="4.4" lengthAdjust="spacingAndGlyphs" fill="#151515" stroke="#151515" stroke-width="0.08">0</text>
<text x="45.8" y="401.00" text-anchor="end" font-size="9.6" textLength="18.5" lengthAdjust="spacingAndGlyphs" fill="#151515" stroke="#151515" stroke-width="0.08">2000</text>
<text x="45.8" y="371.55" text-anchor="end" font-size="9.6" textLength="18.5" lengthAdjust="spacingAndGlyphs" fill="#151515" stroke="#151515" stroke-width="0.08">4000</text>
<text x="45.8" y="342.10" text-anchor="end" font-size="9.6" textLength="18.5" lengthAdjust="spacingAndGlyphs" fill="#151515" stroke="#151515" stroke-width="0.08">6000</text>
<text x="45.8" y="312.65" text-anchor="end" font-size="9.6" textLength="18.5" lengthAdjust="spacingAndGlyphs" fill="#151515" stroke="#151515" stroke-width="0.08">8000</text>
<text x="47.7" y="283.20" text-anchor="end" font-size="9.6" textLength="22.7" lengthAdjust="spacingAndGlyphs" fill="#151515" stroke="#151515" stroke-width="0.08">10000</text>
<text x="47.7" y="253.75" text-anchor="end" font-size="9.6" textLength="22.7" lengthAdjust="spacingAndGlyphs" fill="#151515" stroke="#151515" stroke-width="0.08">12000</text>
<text x="47.7" y="224.30" text-anchor="end" font-size="9.6" textLength="22.7" lengthAdjust="spacingAndGlyphs" fill="#151515" stroke="#151515" stroke-width="0.08">14000</text>
<text x="47.7" y="194.85" text-anchor="end" font-size="9.6" textLength="22.7" lengthAdjust="spacingAndGlyphs" fill="#151515" stroke="#151515" stroke-width="0.08">16000</text>
<text x="47.7" y="165.40" text-anchor="end" font-size="9.6" textLength="22.7" lengthAdjust="spacingAndGlyphs" fill="#151515" stroke="#151515" stroke-width="0.08">18000</text>
<text x="47.7" y="135.95" text-anchor="end" font-size="9.6" textLength="22.7" lengthAdjust="spacingAndGlyphs" fill="#151515" stroke="#151515" stroke-width="0.08">20000</text>
<text x="47.7" y="106.50" text-anchor="end" font-size="9.6" textLength="22.7" lengthAdjust="spacingAndGlyphs" fill="#151515" stroke="#151515" stroke-width="0.08">22000</text>
<text x="47.7" y="77.05" text-anchor="end" font-size="9.6" textLength="22.7" lengthAdjust="spacingAndGlyphs" fill="#151515" stroke="#151515" stroke-width="0.08">24000</text>
<text x="47.7" y="47.60" text-anchor="end" font-size="9.6" textLength="22.7" lengthAdjust="spacingAndGlyphs" fill="#151515" stroke="#151515" stroke-width="0.08">26000</text>
<text x="109.10" y="451.3" text-anchor="middle" font-size="9.4" textLength="12.4" lengthAdjust="spacingAndGlyphs" fill="#151515" stroke="#151515" stroke-width="0.4">3 h</text>
<text x="205.90" y="451.3" text-anchor="middle" font-size="9.4" textLength="16.6" lengthAdjust="spacingAndGlyphs" fill="#151515" stroke="#151515" stroke-width="0.4">12 h</text>
<text x="302.70" y="451.3" text-anchor="middle" font-size="9.4" textLength="17.2" lengthAdjust="spacingAndGlyphs" fill="#151515" stroke="#151515" stroke-width="0.4">24 h</text>
<text x="399.50" y="451.3" text-anchor="middle" font-size="9.4" textLength="17.2" lengthAdjust="spacingAndGlyphs" fill="#151515" stroke="#151515" stroke-width="0.4">48 h</text>
<text x="496.30" y="451.3" text-anchor="middle" font-size="9.4" textLength="17.0" lengthAdjust="spacingAndGlyphs" fill="#151515" stroke="#151515" stroke-width="0.4">72 h</text>
<text x="302.7" y="472.9" text-anchor="middle" font-size="9.5" textLength="20.8" lengthAdjust="spacingAndGlyphs" fill="#151515" stroke="#151515" stroke-width="0.15">Time</text>
<g transform="translate(12.6 293.8) rotate(-90)" fill="#151515" stroke="#151515" stroke-width="0.15"><text x="0" y="0" font-size="9.9" text-anchor="start" textLength="19.3" lengthAdjust="spacingAndGlyphs">Total</text><text x="23.6" y="0" font-size="9.9" text-anchor="start" textLength="36.8" lengthAdjust="spacingAndGlyphs">phenolics</text><text x="64.7" y="0" font-size="9.9" text-anchor="start" textLength="28.6" lengthAdjust="spacingAndGlyphs">content</text><text x="93.4" y="0" font-size="9.9" text-anchor="start" textLength="14.9" lengthAdjust="spacingAndGlyphs">(μg</text><text x="111.6" y="1.0" font-size="9.9" text-anchor="middle">·</text><text x="113.2" y="0" font-size="9.9" text-anchor="start" textLength="5.1" lengthAdjust="spacingAndGlyphs">g</text><text x="119.0" y="-1.2" font-size="6.6" text-anchor="start" textLength="4.6" lengthAdjust="spacingAndGlyphs">−</text><text x="123.9" y="-4.0" font-size="5.8" text-anchor="start" textLength="2.4" lengthAdjust="spacingAndGlyphs">1</text><text x="128.0" y="0" font-size="9.9" text-anchor="start" textLength="2.6" lengthAdjust="spacingAndGlyphs">)</text></g>
<rect x="459.0" y="6.80" width="24.5" height="10.6" fill="#fff"/>
<rect x="459.0" y="6.80" width="24.5" height="10.6" fill="none" stroke="#161616" stroke-width="1.25"/>
<text x="485.6" y="15.70" font-size="9.5" textLength="21.3" lengthAdjust="spacingAndGlyphs" fill="#151515" stroke="#151515" stroke-width="0.15">CON</text>
<rect x="459.0" y="21.44" width="24.5" height="10.6" fill="#9e9e9e"/>
<rect x="459.0" y="21.44" width="24.5" height="10.6" fill="none" stroke="#161616" stroke-width="1.25"/>
<text x="485.6" y="30.34" font-size="9.5" textLength="30.8" lengthAdjust="spacingAndGlyphs" fill="#151515" stroke="#151515" stroke-width="0.15">0.1 mM</text>
<rect x="459.0" y="36.08" width="24.5" height="10.6" fill="#fff"/>
<g clip-path="url(#l2)" stroke="#161616" stroke-width="0.95" fill="none"><line x1="459.0" y1="36.98" x2="483.5" y2="36.98"/><line x1="459.0" y1="40.78" x2="483.5" y2="40.78"/><line x1="459.0" y1="45.78" x2="483.5" y2="45.78"/></g>
<rect x="459.0" y="36.08" width="24.5" height="10.6" fill="none" stroke="#161616" stroke-width="1.25"/>
<text x="485.6" y="44.98" font-size="9.5" textLength="30.8" lengthAdjust="spacingAndGlyphs" fill="#151515" stroke="#151515" stroke-width="0.15">0.5 mM</text>
<rect x="459.0" y="50.72" width="24.5" height="10.6" fill="#fff"/>
<g clip-path="url(#l3)" stroke="#161616" stroke-width="1.3" fill="none"><line x1="459.40" y1="27.72" x2="483.50" y2="51.82"/><line x1="459.40" y1="39.22" x2="483.50" y2="63.32"/><line x1="459.40" y1="50.72" x2="483.50" y2="74.82"/><line x1="459.40" y1="62.22" x2="483.50" y2="86.32"/><line x1="459.40" y1="73.72" x2="483.50" y2="97.82"/><line x1="459.40" y1="85.22" x2="483.50" y2="109.32"/><line x1="459.40" y1="96.72" x2="483.50" y2="120.82"/></g>
<rect x="459.0" y="50.72" width="24.5" height="10.6" fill="none" stroke="#161616" stroke-width="1.25"/>
<text x="485.6" y="59.62" font-size="9.5" textLength="30.8" lengthAdjust="spacingAndGlyphs" fill="#151515" stroke="#151515" stroke-width="0.15">1.0 mM</text>
<rect x="459.0" y="65.36" width="24.5" height="10.6" fill="#fff"/>
<g clip-path="url(#l4)" stroke="#161616" stroke-width="1.3" fill="none"><line x1="459.40" y1="42.36" x2="483.50" y2="66.46"/><line x1="459.40" y1="53.86" x2="483.50" y2="77.96"/><line x1="459.40" y1="65.36" x2="483.50" y2="89.46"/><line x1="459.40" y1="76.86" x2="483.50" y2="100.96"/><line x1="459.40" y1="88.36" x2="483.50" y2="112.46"/><line x1="459.40" y1="99.86" x2="483.50" y2="123.96"/><line x1="459.40" y1="111.36" x2="483.50" y2="135.46"/><line x1="459.40" y1="65.36" x2="483.50" y2="41.26"/><line x1="459.40" y1="76.86" x2="483.50" y2="52.76"/><line x1="459.40" y1="88.36" x2="483.50" y2="64.26"/><line x1="459.40" y1="99.86" x2="483.50" y2="75.76"/><line x1="459.40" y1="111.36" x2="483.50" y2="87.26"/><line x1="459.40" y1="122.86" x2="483.50" y2="98.76"/><line x1="459.40" y1="134.36" x2="483.50" y2="110.26"/></g>
<rect x="459.0" y="65.36" width="24.5" height="10.6" fill="none" stroke="#161616" stroke-width="1.25"/>
<text x="485.6" y="74.26" font-size="9.5" textLength="30.8" lengthAdjust="spacingAndGlyphs" fill="#151515" stroke="#151515" stroke-width="0.15">2.5 mM</text>
<rect x="459.0" y="80.00" width="24.5" height="10.6" fill="#e0e0e0"/>
<rect x="459.0" y="80.00" width="24.5" height="10.6" fill="none" stroke="#161616" stroke-width="1.25"/>
<text x="485.6" y="88.90" font-size="9.5" textLength="30.8" lengthAdjust="spacingAndGlyphs" fill="#151515" stroke="#151515" stroke-width="0.15">5.0 mM</text></g></svg>
</body></html>
